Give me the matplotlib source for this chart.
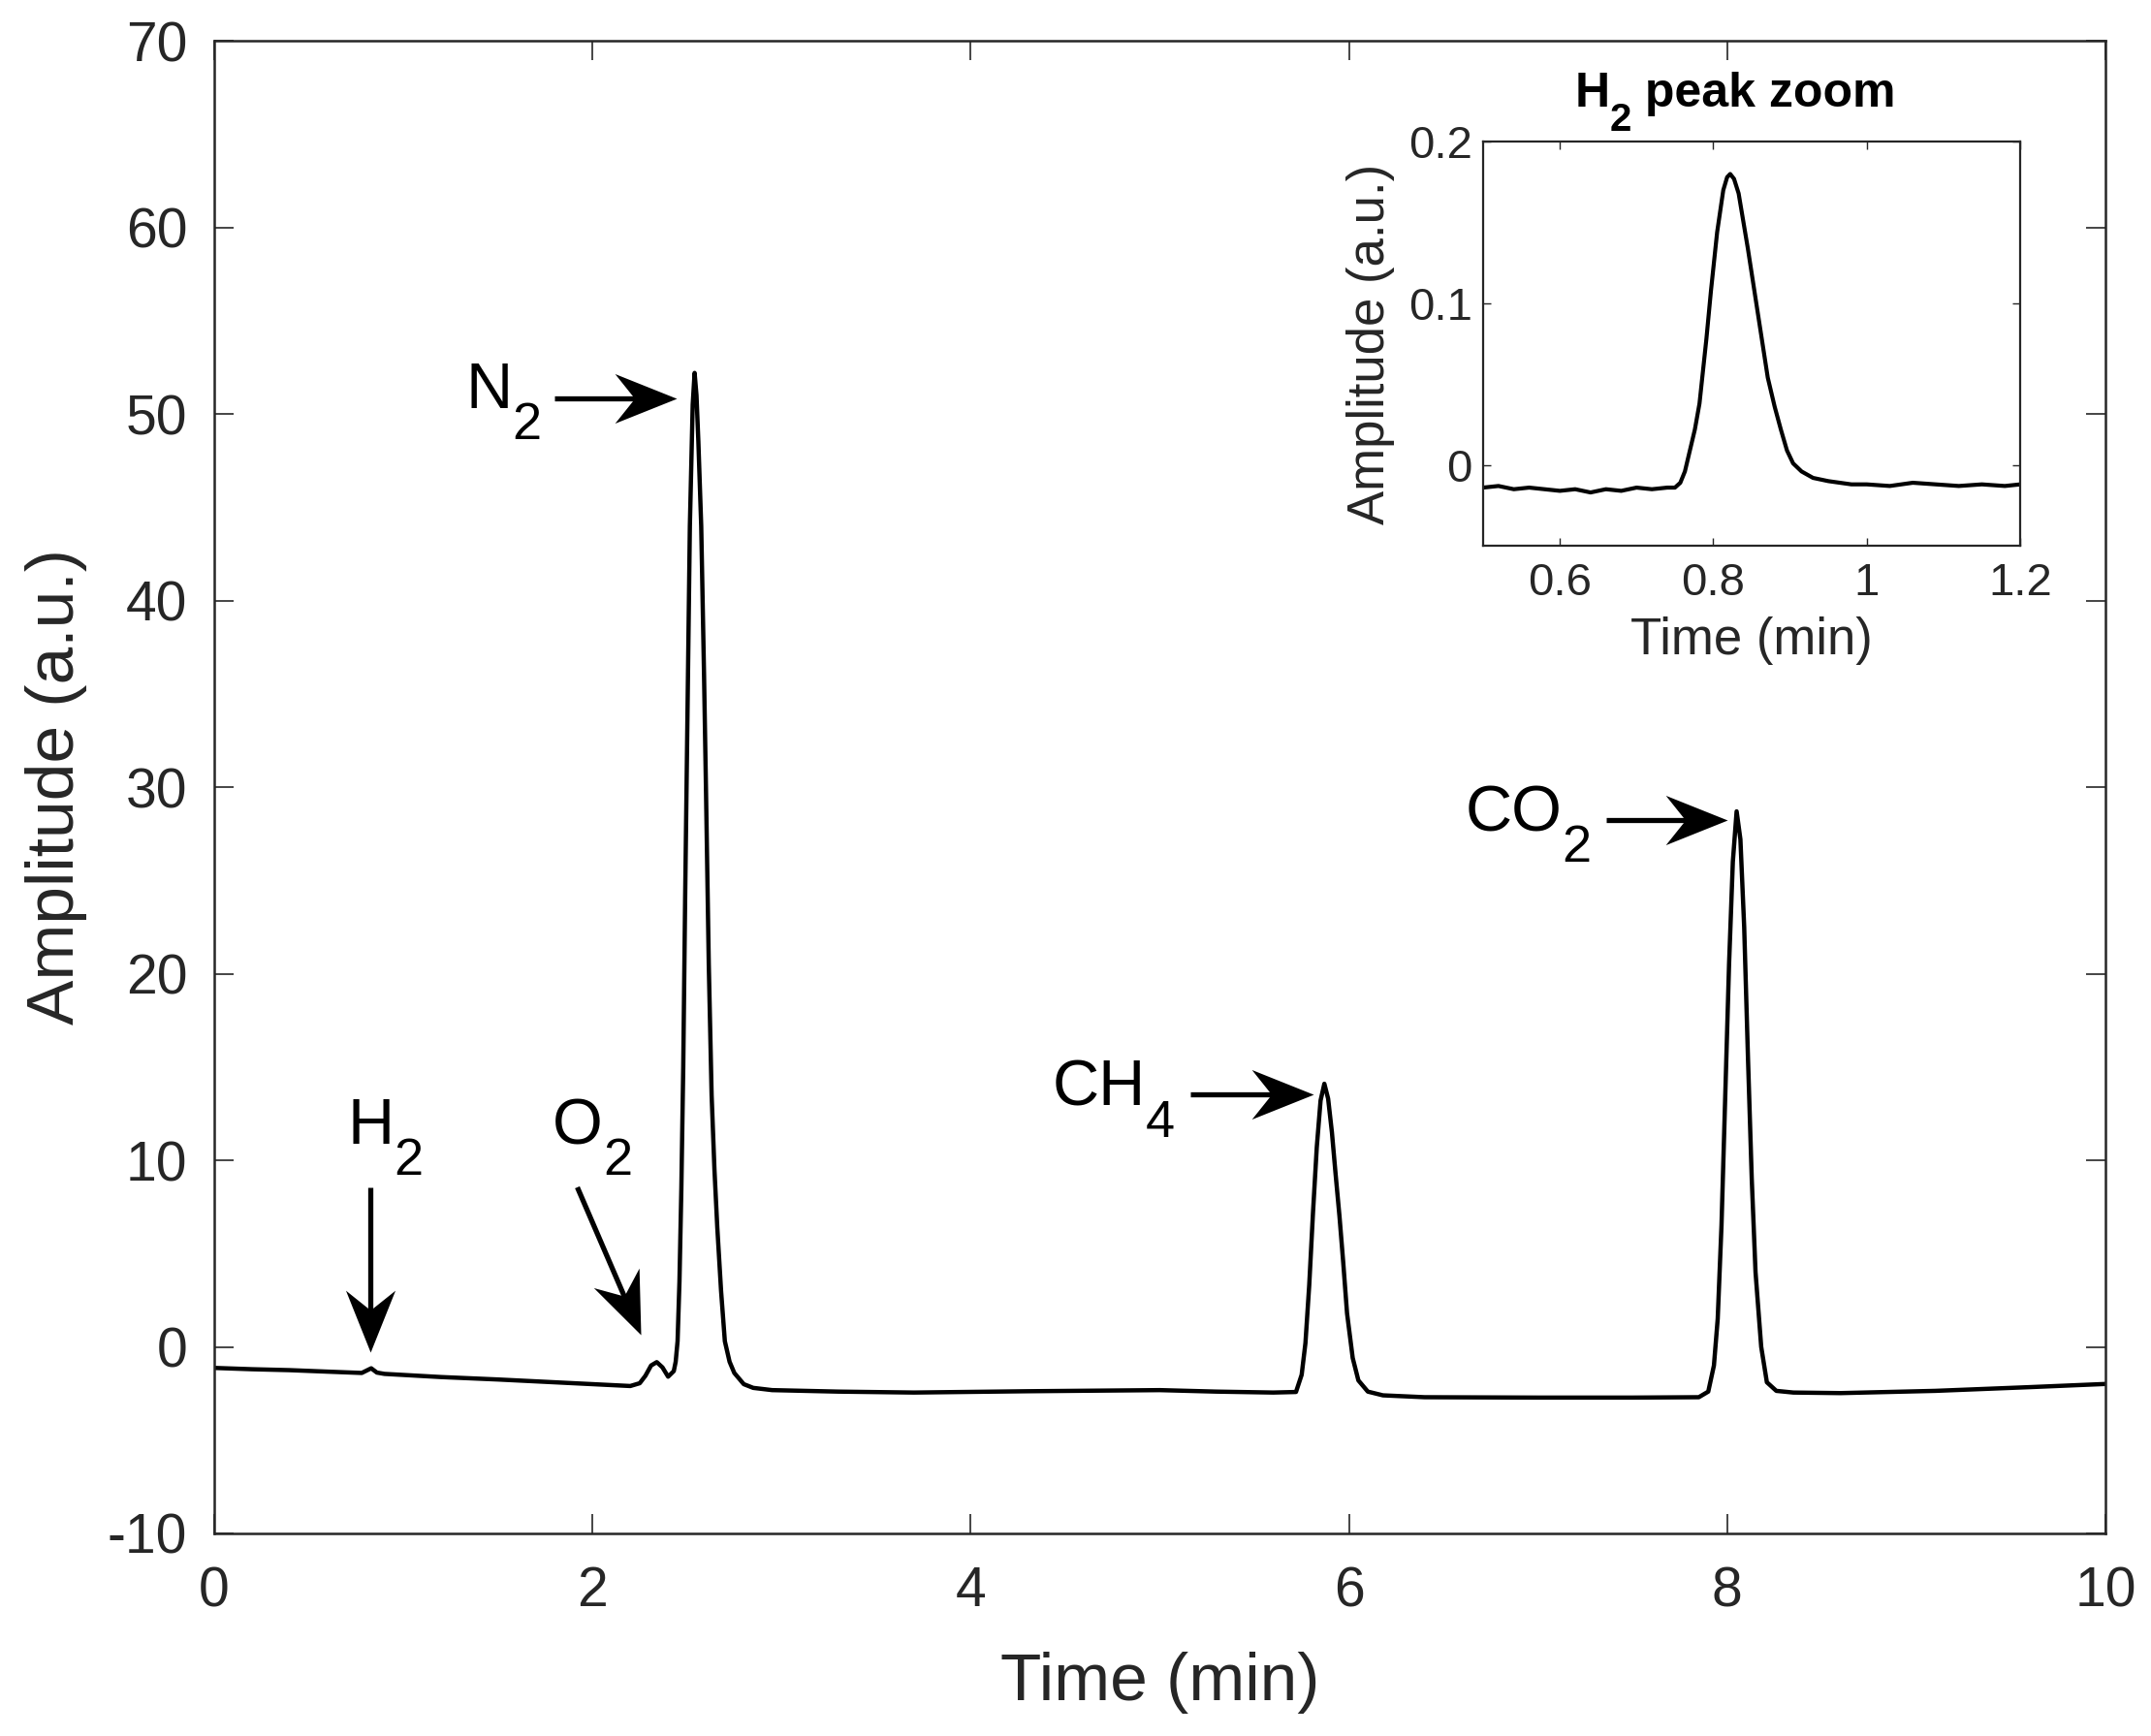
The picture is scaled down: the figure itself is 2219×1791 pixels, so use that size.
# Chromatogramm mit Ausschnitt des H2-Peaks
import numpy as np
import matplotlib
matplotlib.use('Agg')
import matplotlib.pyplot as plt
from matplotlib.markers import MarkerStyle
from matplotlib.path import Path
from matplotlib.transforms import Affine2D

plt.rcParams['font.family'] = ['Liberation Sans', 'DejaVu Sans']
plt.rcParams['axes.unicode_minus'] = False

# Hauptsignal
zeit = [0.00, 0.20, 0.40, 0.60, 0.78, 0.81, 0.83, 0.86, 0.90, 1.20, 1.50, 1.80,
        2.10, 2.20, 2.25, 2.28, 2.31, 2.34, 2.37, 2.40,
        2.43, 2.44, 2.45, 2.46, 2.47, 2.48, 2.49, 2.50, 2.515, 2.53, 2.54, 2.55,
        2.56, 2.575, 2.59, 2.60, 2.615, 2.63, 2.645, 2.66, 2.68, 2.70, 2.725,
        2.75, 2.80, 2.85, 2.95,
        3.30, 3.70, 4.30, 5.00, 5.30, 5.60, 5.72, 5.75, 5.77, 5.79, 5.81, 5.83,
        5.85, 5.87, 5.89, 5.91, 5.93, 5.95, 5.97, 5.99, 6.02, 6.05, 6.10, 6.18,
        6.40, 7.00, 7.50, 7.85, 7.90, 7.93, 7.95, 7.97, 7.99, 8.01, 8.03, 8.05,
        8.07, 8.09, 8.11, 8.13, 8.15, 8.18, 8.21, 8.26, 8.35, 8.60, 9.10, 9.60,
        10.0]
amplitude = [-1.13, -1.20, -1.25, -1.33, -1.40, -1.25, -1.15, -1.38, -1.45, -1.62, -1.75, -1.90,
             -2.05, -2.10, -1.95, -1.55, -1.00, -0.82, -1.10, -1.60,
             -1.30, -0.80, 0.30, 3.50, 8.50, 15.0, 24.0, 32.0, 44.0, 50.5, 52.2, 51.0,
             48.5, 44.0, 36.0, 30.0, 20.5, 13.5, 9.5, 6.4, 3.0, 0.3, -0.8,
             -1.4, -2.0, -2.2, -2.32,
             -2.40, -2.45, -2.38, -2.32, -2.40, -2.45, -2.42, -1.50, 0.20, 3.30, 7.20, 10.7,
             13.2, 14.1, 13.3, 11.5, 9.2, 7.0, 4.5, 1.8, -0.6, -1.8, -2.4, -2.6,
             -2.70, -2.72, -2.72, -2.70, -2.40, -1.00, 1.50, 6.50, 13.5, 20.5, 26.0, 28.7,
             27.2, 22.5, 15.5, 9.0, 4.0, 0.0, -1.9, -2.36, -2.45, -2.48, -2.36, -2.16,
             -1.99]

# H2-Peak im Detail (Ausschnitt)
zeit_h2 = [0.50, 0.52, 0.54, 0.56, 0.58, 0.60, 0.62, 0.64, 0.66, 0.68, 0.70, 0.72,
           0.74, 0.750, 0.757, 0.763, 0.769, 0.776, 0.782, 0.791, 0.797, 0.805, 0.813,
           0.818, 0.822, 0.827, 0.833, 0.845, 0.858, 0.871, 0.880, 0.888, 0.896,
           0.904, 0.915, 0.93, 0.95, 0.98, 1.00, 1.03, 1.06, 1.09, 1.12, 1.15, 1.18,
           1.20]
amplitude_h2 = [-0.014, -0.013, -0.015, -0.014, -0.015, -0.016, -0.015, -0.017, -0.015,
                -0.016, -0.014, -0.015, -0.014, -0.014, -0.011, -0.004, 0.008, 0.022,
                0.038, 0.078, 0.108, 0.144, 0.170, 0.178, 0.180, 0.177, 0.168, 0.134,
                0.094, 0.054, 0.036, 0.022, 0.009, 0.001, -0.004, -0.008, -0.010,
                -0.012, -0.012, -0.013, -0.011, -0.012, -0.013, -0.012, -0.013, -0.012]

# Peak-Beschriftungen: Formel, Index, Textposition, Pfeil (Start -> Spitze)
stoffe = ['H', 'O', 'N', 'CH', 'CO']
indizes = ['2', '2', '2', '4', '2']
text_x = [0.704, 1.79, 1.33, 4.43, 6.615]
text_y = [10.88, 10.88, 50.3, 12.93, 27.65]
pfeil_start = [(0.825, 8.55), (1.92, 8.55), (1.80, 50.85), (5.16, 13.53), (7.36, 28.25)]
pfeil_ende = [(0.825, -0.29), (2.255, 0.67), (2.445, 50.85), (5.81, 13.53), (8.0, 28.25)]

grau = '#262626'


def formel(ax, x, y, haupt, index, groesse, igroesse, tief, coords='data',
           weight='normal', rest=None):
    trans = ax.transData if coords == 'data' else ax.transAxes
    t = ax.text(x, y, haupt, transform=trans, fontsize=groesse, ha='left',
                va='baseline', fontweight=weight)
    s = ax.annotate(index, xy=(1, y), xycoords=(t, coords), xytext=(0, -tief),
                    textcoords='offset points', fontsize=igroesse, ha='left',
                    va='baseline', fontweight=weight)
    if rest:
        ax.annotate(rest, xy=(1, y), xycoords=(s, coords), xytext=(0, 0),
                    textcoords='offset points', fontsize=groesse, ha='left',
                    va='baseline', fontweight=weight)


# Pfeilspitze mit eingezogenem Ende (wie in MATLAB)
spitze = Path([(0, 0), (-1, 0.40), (-0.68, 0), (-1, -0.40), (0, 0)],
              [Path.MOVETO, Path.LINETO, Path.LINETO, Path.LINETO, Path.CLOSEPOLY])


def pfeil(ax, start, ende):
    p0 = ax.transData.transform(start)
    p1 = ax.transData.transform(ende)
    d = p1 - p0
    winkel = np.degrees(np.arctan2(d[1], d[0]))
    u = d / np.hypot(*d)
    schaft_ende = ax.transData.inverted().transform(p1 - u * 40)
    ax.plot([start[0], schaft_ende[0]], [start[1], schaft_ende[1]], color='k',
            lw=3.8, solid_capstyle='butt')
    m = MarkerStyle(spitze, transform=Affine2D().rotate_deg(winkel))
    ax.plot([ende[0]], [ende[1]], marker=m, ms=92, color='k', mew=0, ls='none')


fig = plt.figure(figsize=(22.19, 17.91), dpi=100)
ax = fig.add_axes([0.0996, 0.1167, 0.8792, 0.8598])

ax.plot(zeit, amplitude, color='k', lw=3.2, solid_joinstyle='round')
ax.set_xlim(0, 10)
ax.set_ylim(-10, 70)
ax.set_xticks(range(0, 11, 2))
ax.set_yticks(range(-10, 71, 10))
ax.tick_params(direction='in', length=14.4, width=1.2, top=True, right=True,
               labelsize=41, colors=grau)
ax.tick_params(axis='x', pad=24)
ax.tick_params(axis='y', pad=20)
for sp in ax.spines.values():
    sp.set_color(grau)
    sp.set_linewidth(1.8)
ax.set_xlabel('Time (min)', fontsize=50, color=grau)
ax.set_ylabel('Amplitude (a.u.)', fontsize=50, color=grau)
ax.xaxis.set_label_coords(0.5, -0.079)
ax.yaxis.set_label_coords(-0.067, 0.5)

for haupt, idx, x, y, a, b in zip(stoffe, indizes, text_x, text_y, pfeil_start, pfeil_ende):
    formel(ax, x, y, haupt, idx, 48, 39, 23)
    pfeil(ax, a, b)

# Ausschnitt
axi = fig.add_axes([0.6895, 0.6856, 0.2497, 0.2328])
axi.plot(zeit_h2, amplitude_h2, color='k', lw=3.0, solid_joinstyle='round')
axi.set_xlim(0.5, 1.2)
axi.set_ylim(-0.05, 0.2)
axi.set_xticks([0.6, 0.8, 1.0, 1.2])
axi.set_xticklabels(['0.6', '0.8', '1', '1.2'])
axi.set_yticks([0, 0.1, 0.2])
axi.set_yticklabels(['0', '0.1', '0.2'])
axi.tick_params(direction='in', length=6, width=1.0, top=True, right=True,
                labelsize=34, colors=grau)
axi.tick_params(axis='x', pad=12)
axi.tick_params(axis='y', pad=8)
for sp in axi.spines.values():
    sp.set_color(grau)
    sp.set_linewidth(1.6)
axi.set_xlabel('Time (min)', fontsize=38, color=grau)
axi.set_ylabel('Amplitude (a.u.)', fontsize=38, color=grau)
axi.xaxis.set_label_coords(0.5, -0.176)
axi.yaxis.set_label_coords(-0.165, 0.5)
formel(axi, 0.17, 1.0875, 'H', '2', 36, 29, 18, coords='axes fraction',
       weight='bold', rest=' peak zoom')

plt.savefig('out.png', dpi=100)
